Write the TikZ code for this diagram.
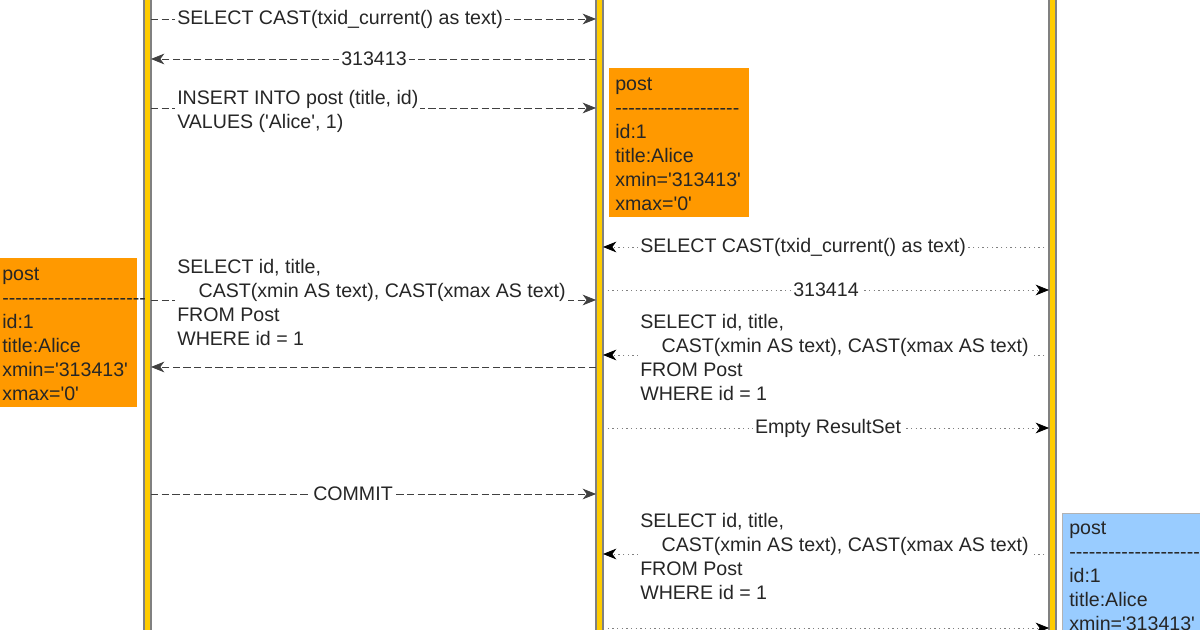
\documentclass[tikz,border=0pt]{standalone}
\usepackage{fontspec}
\newfontfamily\af{Liberation Sans}
\usetikzlibrary{arrows.meta}
\definecolor{org}{HTML}{FF9900}
\definecolor{gld}{HTML}{FFCC00}
\definecolor{sky}{HTML}{99CCFF}
\begin{document}
\begin{tikzpicture}[x=0.75pt,y=-0.75pt,
  every node/.style={font=\af\fontsize{14.7}{18}\selectfont, text=black!85},
  life/.style={draw=gray, fill=gld, line width=0.8pt},
  dsh/.style={draw=black!75, dash pattern=on 5.5pt off 2.5pt, line width=0.6pt, -{Stealth[length=10pt,width=8pt,inset=3pt]}},
  dot/.style={draw=black!50, dash pattern=on 1pt off 2.5pt, line width=0.6pt, -{Stealth[length=10pt,width=8pt,inset=3pt,black]}},
  lbl/.style={fill=white, inner sep=1.5pt},
  mlbl/.style={fill=white, inner sep=1.5pt, anchor=west, align=left},
  box/.style={anchor=north west, align=left, inner sep=0pt, text width=#1}]
\useasboundingbox (0,0) rectangle (1200,630);
\fill[white] (0,0) rectangle (1200,630);
% lifelines
\draw[life] (144,-5) rectangle (151,635);
\draw[life] (596,-5) rectangle (603,635);
\draw[life] (1049,-5) rectangle (1056,635);
\foreach \n/\x in {A/151,B/596,C/603,D/1049}{
  \foreach \y in {19,59,108,247,290,300,355,367,428,494,554,628}{
    \coordinate (\n\y) at (\x,\y);}}
% boxes
\fill[org] (609,68) rectangle (749,217);
\node[box=130pt] (b1) at (615,78) {post\\-------------------\\id:1\\title:Alice\\xmin='313413'\\xmax='0'};
\fill[org] (-1,258) rectangle (137,407);
\node[box=130pt] (b2) at (2,268) {post\\----------------------\\id:1\\title:Alice\\xmin='313413'\\xmax='0'};
\fill[sky] (1062,513) rectangle (1205,640);
\draw[gray!60, line width=0.4pt] (1062,640) -- (1062,513) -- (1205,513);
\node[box=130pt] (b3) at (1069,522) {post\\----------------------\\id:1\\title:Alice\\xmin='313413'};
% messages
\draw[dsh] (A19) -- (B19);
\node[mlbl] (m1) at (175,19) {SELECT CAST(txid\_current() as text)};
\draw[dsh] (B59) -- (A59);
\node[lbl] (m2) at (374,59) {313413};
\draw[dsh] (A108) -- (B108);
\node[mlbl] (m3) at (175,111) {INSERT INTO post (title, id)\hspace{8pt}\\VALUES ('Alice', 1)};
\draw[dot] (D247) -- (C247);
\node[mlbl] (m4) at (638,247) {SELECT CAST(txid\_current() as text)};
\draw[dot] (C290) -- (D290);
\node[lbl] (m5) at (826,290) {313414};
\draw[dsh] (A300) -- (B300);
\node[mlbl] (m6) at (175,302) {SELECT id, title,\\\hspace{16pt}CAST(xmin AS text), CAST(xmax AS text)\\FROM Post\\WHERE id = 1};
\draw[dot] (D355) -- (C355);
\node[mlbl] (m7) at (638,357) {SELECT id, title,\\\hspace{16pt}CAST(xmin AS text), CAST(xmax AS text)\\FROM Post\\WHERE id = 1};
\draw[dsh] (B367) -- (A367);
\draw[dot] (C428) -- (D428);
\node[lbl] (m8) at (828,428) {Empty ResultSet};
\draw[dsh] (A494) -- (B494);
\node[lbl] (m9) at (353,494) {COMMIT};
\draw[dot] (D554) -- (C554);
\node[mlbl] (m10) at (638,556) {SELECT id, title,\\\hspace{16pt}CAST(xmin AS text), CAST(xmax AS text)\\FROM Post\\WHERE id = 1};
\draw[dot] (C628) -- (D628);
\end{tikzpicture}
\end{document}
